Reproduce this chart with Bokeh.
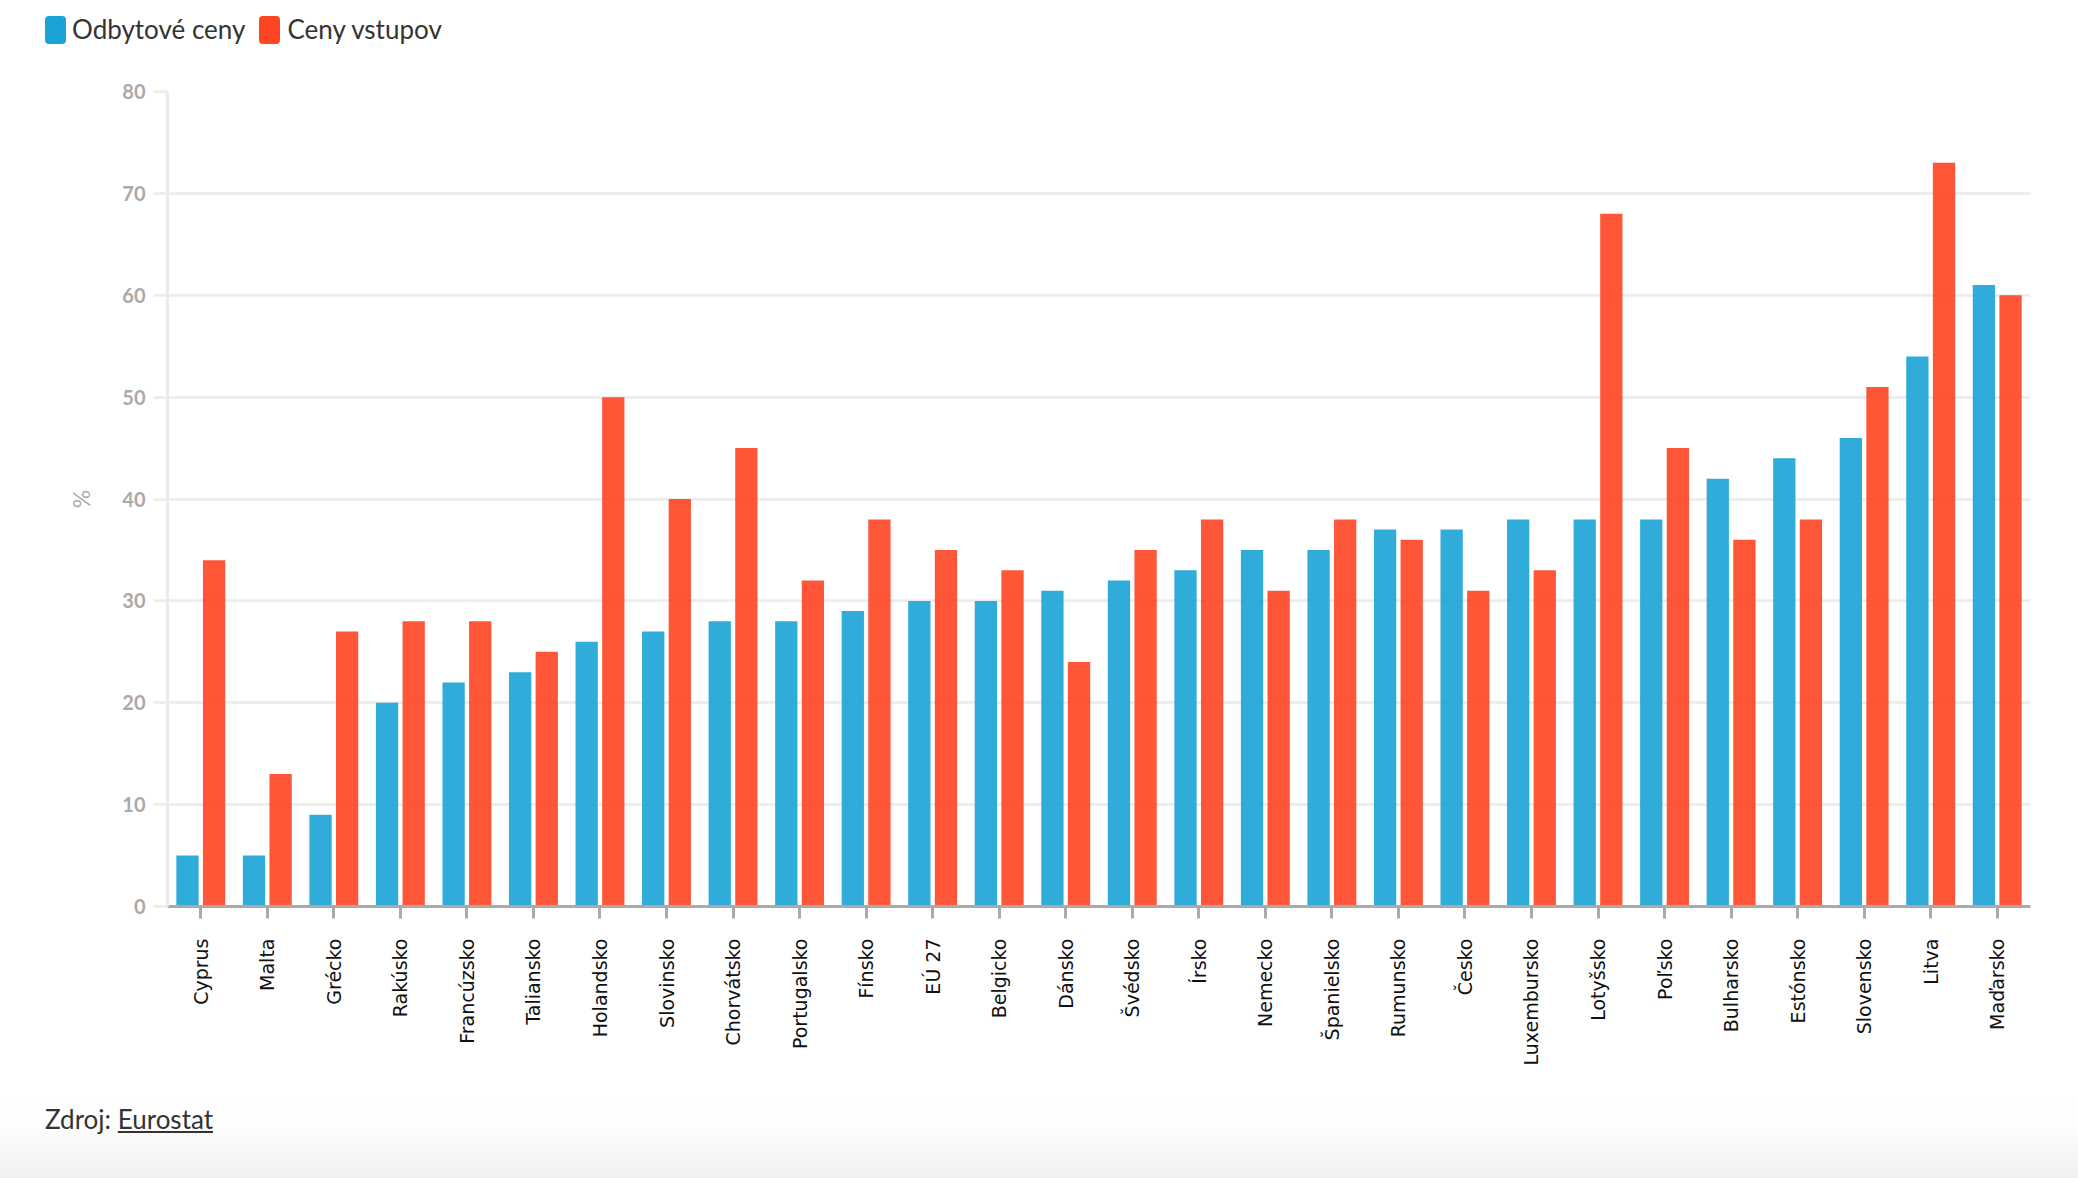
import math
from bokeh.plotting import figure
from bokeh.models import ColumnDataSource, FactorRange, Range1d, FixedTicker, Div
from bokeh.layouts import column
from bokeh.transform import dodge
from bokeh.embed import file_html
from bokeh.resources import INLINE

# ---------------- data ----------------
categories = ["Cyprus", "Malta", "Grécko", "Rakúsko", "Francúzsko", "Taliansko",
              "Holandsko", "Slovinsko", "Chorvátsko", "Portugalsko", "Fínsko", "EÚ 27",
              "Belgicko", "Dánsko", "Švédsko", "Írsko", "Nemecko", "Španielsko",
              "Rumunsko", "Česko", "Luxembursko", "Lotyšsko", "Poľsko", "Bulharsko",
              "Estónsko", "Slovensko", "Litva", "Maďarsko"]
odbytove_ceny = [5, 5, 9, 20, 22, 23, 26, 27, 28, 28, 29, 30, 30, 31, 32, 33, 35, 35,
                 37, 37, 38, 38, 38, 42, 44, 46, 54, 61]
ceny_vstupov = [34, 13, 27, 28, 28, 25, 50, 40, 45, 32, 38, 35, 33, 24, 35, 38, 31, 38,
                36, 31, 33, 68, 45, 36, 38, 51, 73, 60]
series_names = ["Odbytové ceny", "Ceny vstupov"]
y_ticks = [0, 10, 20, 30, 40, 50, 60, 70, 80]
y_axis_title = "%"
source_label = "Zdroj:"
source_link = "Eurostat"

# ---------------- styles ----------------
BLUE = "#1AA3D6"
RED = "#FF4422"
W = 2078
LEG_H = 56
FOOT_H = 78
FIG_H = 1178 - LEG_H - FOOT_H

# legend (HTML)
sw = ("display:inline-block;width:21px;height:28px;border-radius:4px;"
      "vertical-align:middle;")
legend_html = (
    '<div style="display:flex;align-items:center;padding:11px 0 0 45px;'
    'font-family:Lato;font-size:26px;color:#333333;white-space:nowrap;">'
    f'<span style="{sw}background:{BLUE};margin-right:6px;"></span>'
    f'<span>{series_names[0]}</span>'
    f'<span style="{sw}background:{RED};margin-left:14px;margin-right:7px;"></span>'
    f'<span>{series_names[1]}</span></div>'
)
legend_div = Div(text=legend_html, width=W, height=LEG_H, margin=(0, 0, 0, 0))

src = ColumnDataSource(dict(cat=categories, out=odbytove_ceny, inp=ceny_vstupov))

p = figure(x_range=FactorRange(factors=categories, range_padding=0),
           y_range=Range1d(0, 80),
           width=W, height=FIG_H, output_backend="svg", toolbar_location=None,
           min_border_left=167, min_border_right=48,
           min_border_top=int(round(90.7 - LEG_H)),
           min_border_bottom=FIG_H - (906 - LEG_H),
           margin=(0, 0, 0, 0))
p.outline_line_color = None
p.background_fill_color = "white"
p.border_fill_color = "white"

p.vbar(x=dodge("cat", -0.2, range=p.x_range), top="out", width=0.335, source=src,
       fill_color=BLUE, fill_alpha=0.9, line_color=None)
p.vbar(x=dodge("cat", 0.2, range=p.x_range), top="inp", width=0.335, source=src,
       fill_color=RED, fill_alpha=0.9, line_color=None)

# grid
p.xgrid.visible = False
p.ygrid.ticker = FixedTicker(ticks=y_ticks)
p.ygrid.grid_line_color = "#ebebeb"
p.ygrid.grid_line_width = 2.5

# x axis
xa = p.xaxis[0]
xa.axis_line_color = "#aaaaaa"
xa.axis_line_width = 3
xa.major_tick_line_color = "#aaaaaa"
xa.major_tick_line_width = 3
xa.major_tick_out = 12
xa.major_tick_in = 0
xa.major_label_orientation = math.pi / 2
xa.major_label_text_font = "DejaVu Sans"
xa.major_label_text_font_size = "19px"
xa.major_label_text_color = "#111111"
xa.major_label_standoff = 20

# y axis
ya = p.yaxis[0]
ya.ticker = FixedTicker(ticks=y_ticks)
ya.axis_line_color = "#ebebeb"
ya.axis_line_width = 3
ya.major_tick_line_color = "#ebebeb"
ya.major_tick_line_width = 2.5
ya.major_tick_out = 14
ya.major_tick_in = 0
ya.minor_tick_line_color = None
ya.major_label_text_font = "Lato"
ya.major_label_text_font_style = "bold"
ya.major_label_text_font_size = "20px"
ya.major_label_text_color = "#aaaaaa"
ya.major_label_standoff = 8
ya.axis_label = y_axis_title
ya.axis_label_text_font = "Lato"
ya.axis_label_text_font_style = "normal"
ya.axis_label_text_font_size = "23px"
ya.axis_label_text_color = "#aaaaaa"
ya.axis_label_standoff = 24

# footer (HTML)
footer_html = (
    '<div style="padding:1px 0 0 45px;font-family:Lato;font-size:26px;color:#333333;'
    'white-space:nowrap;">'
    f'{source_label} <span style="text-decoration:underline;">{source_link}</span></div>'
)
footer_div = Div(text=footer_html, width=W, height=FOOT_H, margin=(0, 0, 0, 0),
                 styles={"background": "linear-gradient(to bottom, #ffffff 0%, #fefefe 30%, #f0f0f0 100%)"})

layout = column(legend_div, p, footer_div, spacing=0)

open("out.html", "w").write(file_html(layout, INLINE))
